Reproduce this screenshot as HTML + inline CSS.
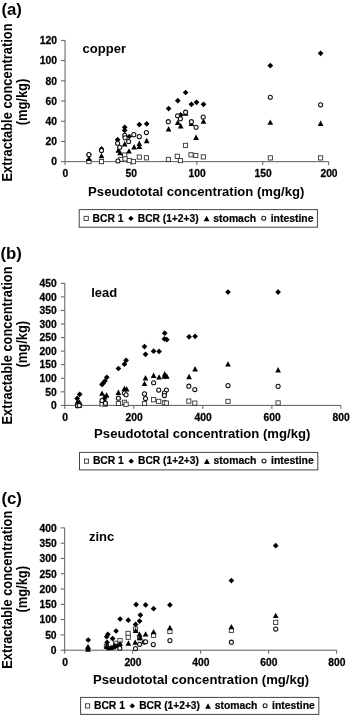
<!DOCTYPE html>
<html><head><meta charset="utf-8"><title>Figure</title>
<style>html,body{margin:0;padding:0;background:#fff}svg{display:block}text{font-family:"Liberation Sans", Arial, Helvetica, sans-serif;fill:#000}</style>
</head><body>
<svg width="350" height="715" viewBox="0 0 350 715">
<rect width="350" height="715" fill="#fff"/>
<text x="21.9" y="14.6" font-size="16.8" font-weight="bold" text-anchor="end">(a)</text>
<path d="M65.05 40.4V161.65H328.7" fill="none" stroke="#5c5c5c" stroke-width="1"/>
<path d="M61.05 161.65H65.05" stroke="#5c5c5c" stroke-width="1"/>
<text transform="translate(56.95 165.40) scale(1.02 1)" font-size="10.1" font-weight="bold" text-anchor="end" stroke="#000" stroke-width="0.25">0</text>
<path d="M61.05 141.44H65.05" stroke="#5c5c5c" stroke-width="1"/>
<text transform="translate(56.95 145.19) scale(1.02 1)" font-size="10.1" font-weight="bold" text-anchor="end" stroke="#000" stroke-width="0.25">20</text>
<path d="M61.05 121.23H65.05" stroke="#5c5c5c" stroke-width="1"/>
<text transform="translate(56.95 124.98) scale(1.02 1)" font-size="10.1" font-weight="bold" text-anchor="end" stroke="#000" stroke-width="0.25">40</text>
<path d="M61.05 101.03H65.05" stroke="#5c5c5c" stroke-width="1"/>
<text transform="translate(56.95 104.78) scale(1.02 1)" font-size="10.1" font-weight="bold" text-anchor="end" stroke="#000" stroke-width="0.25">60</text>
<path d="M61.05 80.82H65.05" stroke="#5c5c5c" stroke-width="1"/>
<text transform="translate(56.95 84.57) scale(1.02 1)" font-size="10.1" font-weight="bold" text-anchor="end" stroke="#000" stroke-width="0.25">80</text>
<path d="M61.05 60.61H65.05" stroke="#5c5c5c" stroke-width="1"/>
<text transform="translate(56.95 64.36) scale(1.02 1)" font-size="10.1" font-weight="bold" text-anchor="end" stroke="#000" stroke-width="0.25">100</text>
<path d="M61.05 40.40H65.05" stroke="#5c5c5c" stroke-width="1"/>
<text transform="translate(56.95 44.15) scale(1.02 1)" font-size="10.1" font-weight="bold" text-anchor="end" stroke="#000" stroke-width="0.25">120</text>
<path d="M65.05 161.65V165.15" stroke="#5c5c5c" stroke-width="1"/>
<text transform="translate(65.35 177.25) scale(1.02 1)" font-size="10.1" font-weight="bold" text-anchor="middle" stroke="#000" stroke-width="0.25">0</text>
<path d="M130.96 161.65V165.15" stroke="#5c5c5c" stroke-width="1"/>
<text transform="translate(131.26 177.25) scale(1.02 1)" font-size="10.1" font-weight="bold" text-anchor="middle" stroke="#000" stroke-width="0.25">50</text>
<path d="M196.88 161.65V165.15" stroke="#5c5c5c" stroke-width="1"/>
<text transform="translate(197.18 177.25) scale(1.02 1)" font-size="10.1" font-weight="bold" text-anchor="middle" stroke="#000" stroke-width="0.25">100</text>
<path d="M262.79 161.65V165.15" stroke="#5c5c5c" stroke-width="1"/>
<text transform="translate(263.09 177.25) scale(1.02 1)" font-size="10.1" font-weight="bold" text-anchor="middle" stroke="#000" stroke-width="0.25">150</text>
<path d="M328.70 161.65V165.15" stroke="#5c5c5c" stroke-width="1"/>
<text transform="translate(329.00 177.25) scale(1.02 1)" font-size="10.1" font-weight="bold" text-anchor="middle" stroke="#000" stroke-width="0.25">200</text>
<text x="82.6" y="53.1" font-size="13" font-weight="bold">copper</text>
<text transform="translate(88.1 195.5) scale(0.978 1)" font-size="13.4" font-weight="bold">Pseudototal concentration (mg/kg)</text>
<text transform="translate(12.2 102.5) rotate(-90) scale(0.921 1)" font-size="14" font-weight="bold" text-anchor="middle">Extractable concentration</text>
<text transform="translate(26.5 102.0) rotate(-90) scale(0.921 1)" font-size="14" font-weight="bold" text-anchor="middle">(mg/kg)</text>
<rect x="79.2" y="209.6" width="238.2" height="17.6" fill="#fff" stroke="#444" stroke-width="1"/>
<rect x="84.10" y="216.30" width="4.20" height="4.20" fill="#fff" stroke="#2a2a2a" stroke-width="0.85"/>
<text x="92.60000000000001" y="221.5" font-size="10.3" font-weight="bold" stroke="#000" stroke-width="0.2">BCR 1</text>
<path d="M130.90 215.70L133.60 218.40L130.90 221.10L128.20 218.40Z" fill="#000"/>
<text x="137.8" y="221.5" font-size="10.22" font-weight="bold" stroke="#000" stroke-width="0.2">BCR (1+2+3)</text>
<path d="M206.60 215.65L209.50 221.16L203.70 221.16Z" fill="#000"/>
<text x="213.3" y="221.5" font-size="10.4" font-weight="bold" stroke="#000" stroke-width="0.2">stomach</text>
<circle cx="263.70" cy="218.25" r="2.00" fill="#fff" stroke="#111" stroke-width="1.05"/>
<text x="270.7" y="221.5" font-size="10.4" font-weight="bold" stroke="#000" stroke-width="0.2">intestine</text>
<rect x="86.80" y="159.50" width="4.20" height="4.20" fill="#fff" stroke="#2a2a2a" stroke-width="0.85"/>
<rect x="99.40" y="159.50" width="4.20" height="4.20" fill="#fff" stroke="#2a2a2a" stroke-width="0.85"/>
<rect x="118.90" y="157.30" width="4.20" height="4.20" fill="#fff" stroke="#2a2a2a" stroke-width="0.85"/>
<rect x="122.60" y="152.90" width="4.20" height="4.20" fill="#fff" stroke="#2a2a2a" stroke-width="0.85"/>
<rect x="123.00" y="156.80" width="4.20" height="4.20" fill="#fff" stroke="#2a2a2a" stroke-width="0.85"/>
<rect x="127.20" y="158.40" width="4.20" height="4.20" fill="#fff" stroke="#2a2a2a" stroke-width="0.85"/>
<rect x="131.30" y="159.50" width="4.20" height="4.20" fill="#fff" stroke="#2a2a2a" stroke-width="0.85"/>
<rect x="137.20" y="155.00" width="4.20" height="4.20" fill="#fff" stroke="#2a2a2a" stroke-width="0.85"/>
<rect x="144.30" y="155.70" width="4.20" height="4.20" fill="#fff" stroke="#2a2a2a" stroke-width="0.85"/>
<rect x="166.30" y="157.30" width="4.20" height="4.20" fill="#fff" stroke="#2a2a2a" stroke-width="0.85"/>
<rect x="175.20" y="154.20" width="4.20" height="4.20" fill="#fff" stroke="#2a2a2a" stroke-width="0.85"/>
<rect x="178.30" y="158.50" width="4.20" height="4.20" fill="#fff" stroke="#2a2a2a" stroke-width="0.85"/>
<rect x="183.40" y="143.30" width="4.20" height="4.20" fill="#fff" stroke="#2a2a2a" stroke-width="0.85"/>
<rect x="188.90" y="152.70" width="4.20" height="4.20" fill="#fff" stroke="#2a2a2a" stroke-width="0.85"/>
<rect x="193.70" y="153.40" width="4.20" height="4.20" fill="#fff" stroke="#2a2a2a" stroke-width="0.85"/>
<rect x="201.20" y="154.80" width="4.20" height="4.20" fill="#fff" stroke="#2a2a2a" stroke-width="0.85"/>
<rect x="268.20" y="155.80" width="4.20" height="4.20" fill="#fff" stroke="#2a2a2a" stroke-width="0.85"/>
<rect x="318.50" y="155.80" width="4.20" height="4.20" fill="#fff" stroke="#2a2a2a" stroke-width="0.85"/>
<path d="M88.90 151.75L91.75 154.60L88.90 157.45L86.05 154.60Z" fill="#000"/>
<path d="M101.50 146.05L104.35 148.90L101.50 151.75L98.65 148.90Z" fill="#000"/>
<path d="M117.60 136.85L120.45 139.70L117.60 142.55L114.75 139.70Z" fill="#000"/>
<path d="M124.70 124.45L127.55 127.30L124.70 130.15L121.85 127.30Z" fill="#000"/>
<path d="M124.70 127.45L127.55 130.30L124.70 133.15L121.85 130.30Z" fill="#000"/>
<path d="M129.30 133.65L132.15 136.50L129.30 139.35L126.45 136.50Z" fill="#000"/>
<path d="M139.30 121.75L142.15 124.60L139.30 127.45L136.45 124.60Z" fill="#000"/>
<path d="M146.70 120.95L149.55 123.80L146.70 126.65L143.85 123.80Z" fill="#000"/>
<path d="M168.60 105.75L171.45 108.60L168.60 111.45L165.75 108.60Z" fill="#000"/>
<path d="M177.80 97.85L180.65 100.70L177.80 103.55L174.95 100.70Z" fill="#000"/>
<path d="M185.60 89.65L188.45 92.50L185.60 95.35L182.75 92.50Z" fill="#000"/>
<path d="M180.70 112.05L183.55 114.90L180.70 117.75L177.85 114.90Z" fill="#000"/>
<path d="M191.40 101.45L194.25 104.30L191.40 107.15L188.55 104.30Z" fill="#000"/>
<path d="M196.50 99.45L199.35 102.30L196.50 105.15L193.65 102.30Z" fill="#000"/>
<path d="M203.50 101.45L206.35 104.30L203.50 107.15L200.65 104.30Z" fill="#000"/>
<path d="M270.30 62.75L273.15 65.60L270.30 68.45L267.45 65.60Z" fill="#000"/>
<path d="M320.60 50.45L323.45 53.30L320.60 56.15L317.75 53.30Z" fill="#000"/>
<path d="M88.90 155.69L91.75 161.11L86.05 161.11Z" fill="#000"/>
<path d="M101.50 152.89L104.35 158.31L98.65 158.31Z" fill="#000"/>
<path d="M118.30 147.39L121.15 152.81L115.45 152.81Z" fill="#000"/>
<path d="M120.10 149.89L122.95 155.31L117.25 155.31Z" fill="#000"/>
<path d="M124.70 140.99L127.55 146.41L121.85 146.41Z" fill="#000"/>
<path d="M129.00 148.19L131.85 153.61L126.15 153.61Z" fill="#000"/>
<path d="M134.10 144.09L136.95 149.51L131.25 149.51Z" fill="#000"/>
<path d="M139.30 140.59L142.15 146.01L136.45 146.01Z" fill="#000"/>
<path d="M139.30 143.69L142.15 149.11L136.45 149.11Z" fill="#000"/>
<path d="M146.70 137.79L149.55 143.21L143.85 143.21Z" fill="#000"/>
<path d="M168.60 126.09L171.45 131.51L165.75 131.51Z" fill="#000"/>
<path d="M177.80 119.49L180.65 124.91L174.95 124.91Z" fill="#000"/>
<path d="M180.70 123.09L183.55 128.51L177.85 128.51Z" fill="#000"/>
<path d="M185.60 110.39L188.45 115.81L182.75 115.81Z" fill="#000"/>
<path d="M191.40 120.59L194.25 126.01L188.55 126.01Z" fill="#000"/>
<path d="M196.10 134.49L198.95 139.91L193.25 139.91Z" fill="#000"/>
<path d="M203.50 118.39L206.35 123.81L200.65 123.81Z" fill="#000"/>
<path d="M270.30 119.39L273.15 124.81L267.45 124.81Z" fill="#000"/>
<path d="M320.60 120.59L323.45 126.01L317.75 126.01Z" fill="#000"/>
<circle cx="88.90" cy="154.65" r="2.05" fill="#fff" stroke="#111" stroke-width="1.05"/>
<circle cx="101.50" cy="150.55" r="2.05" fill="#fff" stroke="#111" stroke-width="1.05"/>
<circle cx="117.60" cy="143.25" r="2.05" fill="#fff" stroke="#111" stroke-width="1.05"/>
<circle cx="119.70" cy="147.35" r="2.05" fill="#fff" stroke="#111" stroke-width="1.05"/>
<circle cx="124.70" cy="135.25" r="2.05" fill="#fff" stroke="#111" stroke-width="1.05"/>
<circle cx="125.10" cy="137.75" r="2.05" fill="#fff" stroke="#111" stroke-width="1.05"/>
<circle cx="128.60" cy="141.45" r="2.05" fill="#fff" stroke="#111" stroke-width="1.05"/>
<circle cx="133.80" cy="134.65" r="2.05" fill="#fff" stroke="#111" stroke-width="1.05"/>
<circle cx="139.30" cy="136.65" r="2.05" fill="#fff" stroke="#111" stroke-width="1.05"/>
<circle cx="146.40" cy="132.55" r="2.05" fill="#fff" stroke="#111" stroke-width="1.05"/>
<circle cx="117.90" cy="160.95" r="2.05" fill="#fff" stroke="#111" stroke-width="1.05"/>
<circle cx="168.30" cy="121.65" r="2.05" fill="#fff" stroke="#111" stroke-width="1.05"/>
<circle cx="177.60" cy="115.75" r="2.05" fill="#fff" stroke="#111" stroke-width="1.05"/>
<circle cx="180.40" cy="118.65" r="2.05" fill="#fff" stroke="#111" stroke-width="1.05"/>
<circle cx="185.60" cy="112.15" r="2.05" fill="#fff" stroke="#111" stroke-width="1.05"/>
<circle cx="191.40" cy="121.65" r="2.05" fill="#fff" stroke="#111" stroke-width="1.05"/>
<circle cx="196.10" cy="127.25" r="2.05" fill="#fff" stroke="#111" stroke-width="1.05"/>
<circle cx="203.20" cy="117.05" r="2.05" fill="#fff" stroke="#111" stroke-width="1.05"/>
<circle cx="270.30" cy="97.25" r="2.05" fill="#fff" stroke="#111" stroke-width="1.05"/>
<circle cx="320.60" cy="104.85" r="2.05" fill="#fff" stroke="#111" stroke-width="1.05"/>
<text x="21.9" y="259.4" font-size="16.8" font-weight="bold" text-anchor="end">(b)</text>
<path d="M64.8 283.3V405.4H340.9" fill="none" stroke="#5c5c5c" stroke-width="1"/>
<path d="M60.8 405.40H64.8" stroke="#5c5c5c" stroke-width="1"/>
<text transform="translate(56.70 409.15) scale(1.02 1)" font-size="10.1" font-weight="bold" text-anchor="end" stroke="#000" stroke-width="0.25">0</text>
<path d="M60.8 391.83H64.8" stroke="#5c5c5c" stroke-width="1"/>
<text transform="translate(56.70 395.58) scale(1.02 1)" font-size="10.1" font-weight="bold" text-anchor="end" stroke="#000" stroke-width="0.25">50</text>
<path d="M60.8 378.27H64.8" stroke="#5c5c5c" stroke-width="1"/>
<text transform="translate(56.70 382.02) scale(1.02 1)" font-size="10.1" font-weight="bold" text-anchor="end" stroke="#000" stroke-width="0.25">100</text>
<path d="M60.8 364.70H64.8" stroke="#5c5c5c" stroke-width="1"/>
<text transform="translate(56.70 368.45) scale(1.02 1)" font-size="10.1" font-weight="bold" text-anchor="end" stroke="#000" stroke-width="0.25">150</text>
<path d="M60.8 351.13H64.8" stroke="#5c5c5c" stroke-width="1"/>
<text transform="translate(56.70 354.88) scale(1.02 1)" font-size="10.1" font-weight="bold" text-anchor="end" stroke="#000" stroke-width="0.25">200</text>
<path d="M60.8 337.57H64.8" stroke="#5c5c5c" stroke-width="1"/>
<text transform="translate(56.70 341.32) scale(1.02 1)" font-size="10.1" font-weight="bold" text-anchor="end" stroke="#000" stroke-width="0.25">250</text>
<path d="M60.8 324.00H64.8" stroke="#5c5c5c" stroke-width="1"/>
<text transform="translate(56.70 327.75) scale(1.02 1)" font-size="10.1" font-weight="bold" text-anchor="end" stroke="#000" stroke-width="0.25">300</text>
<path d="M60.8 310.43H64.8" stroke="#5c5c5c" stroke-width="1"/>
<text transform="translate(56.70 314.18) scale(1.02 1)" font-size="10.1" font-weight="bold" text-anchor="end" stroke="#000" stroke-width="0.25">350</text>
<path d="M60.8 296.87H64.8" stroke="#5c5c5c" stroke-width="1"/>
<text transform="translate(56.70 300.62) scale(1.02 1)" font-size="10.1" font-weight="bold" text-anchor="end" stroke="#000" stroke-width="0.25">400</text>
<path d="M60.8 283.30H64.8" stroke="#5c5c5c" stroke-width="1"/>
<text transform="translate(56.70 287.05) scale(1.02 1)" font-size="10.1" font-weight="bold" text-anchor="end" stroke="#000" stroke-width="0.25">450</text>
<path d="M64.80 405.4V408.9" stroke="#5c5c5c" stroke-width="1"/>
<text transform="translate(65.10 421.00) scale(1.02 1)" font-size="10.1" font-weight="bold" text-anchor="middle" stroke="#000" stroke-width="0.25">0</text>
<path d="M133.82 405.4V408.9" stroke="#5c5c5c" stroke-width="1"/>
<text transform="translate(134.12 421.00) scale(1.02 1)" font-size="10.1" font-weight="bold" text-anchor="middle" stroke="#000" stroke-width="0.25">200</text>
<path d="M202.85 405.4V408.9" stroke="#5c5c5c" stroke-width="1"/>
<text transform="translate(203.15 421.00) scale(1.02 1)" font-size="10.1" font-weight="bold" text-anchor="middle" stroke="#000" stroke-width="0.25">400</text>
<path d="M271.88 405.4V408.9" stroke="#5c5c5c" stroke-width="1"/>
<text transform="translate(272.18 421.00) scale(1.02 1)" font-size="10.1" font-weight="bold" text-anchor="middle" stroke="#000" stroke-width="0.25">600</text>
<path d="M340.90 405.4V408.9" stroke="#5c5c5c" stroke-width="1"/>
<text transform="translate(341.20 421.00) scale(1.02 1)" font-size="10.1" font-weight="bold" text-anchor="middle" stroke="#000" stroke-width="0.25">800</text>
<text x="91.2" y="297" font-size="13" font-weight="bold">lead</text>
<text transform="translate(94.1 438.4) scale(0.978 1)" font-size="13.4" font-weight="bold">Pseudototal concentration (mg/kg)</text>
<text transform="translate(12.2 345.5) rotate(-90) scale(0.921 1)" font-size="14" font-weight="bold" text-anchor="middle">Extractable concentration</text>
<text transform="translate(26.5 344.2) rotate(-90) scale(0.921 1)" font-size="14" font-weight="bold" text-anchor="middle">(mg/kg)</text>
<rect x="79.5" y="452.4" width="238.3" height="17.5" fill="#fff" stroke="#444" stroke-width="1"/>
<rect x="84.40" y="459.05" width="4.20" height="4.20" fill="#fff" stroke="#2a2a2a" stroke-width="0.85"/>
<text x="92.9" y="464.29999999999995" font-size="10.3" font-weight="bold" stroke="#000" stroke-width="0.2">BCR 1</text>
<path d="M131.20 458.45L133.90 461.15L131.20 463.85L128.50 461.15Z" fill="#000"/>
<text x="138.1" y="464.29999999999995" font-size="10.22" font-weight="bold" stroke="#000" stroke-width="0.2">BCR (1+2+3)</text>
<path d="M206.90 458.39L209.80 463.90L204.00 463.90Z" fill="#000"/>
<text x="213.6" y="464.29999999999995" font-size="10.4" font-weight="bold" stroke="#000" stroke-width="0.2">stomach</text>
<circle cx="264.00" cy="461.00" r="2.00" fill="#fff" stroke="#111" stroke-width="1.05"/>
<text x="271.0" y="464.29999999999995" font-size="10.4" font-weight="bold" stroke="#000" stroke-width="0.2">intestine</text>
<rect x="75.90" y="403.50" width="4.20" height="4.20" fill="#fff" stroke="#2a2a2a" stroke-width="0.85"/>
<rect x="77.40" y="403.30" width="4.20" height="4.20" fill="#fff" stroke="#2a2a2a" stroke-width="0.85"/>
<rect x="99.90" y="401.80" width="4.20" height="4.20" fill="#fff" stroke="#2a2a2a" stroke-width="0.85"/>
<rect x="103.30" y="402.00" width="4.20" height="4.20" fill="#fff" stroke="#2a2a2a" stroke-width="0.85"/>
<rect x="116.30" y="401.40" width="4.20" height="4.20" fill="#fff" stroke="#2a2a2a" stroke-width="0.85"/>
<rect x="122.30" y="400.20" width="4.20" height="4.20" fill="#fff" stroke="#2a2a2a" stroke-width="0.85"/>
<rect x="124.00" y="402.20" width="4.20" height="4.20" fill="#fff" stroke="#2a2a2a" stroke-width="0.85"/>
<rect x="142.40" y="401.40" width="4.20" height="4.20" fill="#fff" stroke="#2a2a2a" stroke-width="0.85"/>
<rect x="151.50" y="397.60" width="4.20" height="4.20" fill="#fff" stroke="#2a2a2a" stroke-width="0.85"/>
<rect x="156.60" y="399.30" width="4.20" height="4.20" fill="#fff" stroke="#2a2a2a" stroke-width="0.85"/>
<rect x="162.30" y="400.70" width="4.20" height="4.20" fill="#fff" stroke="#2a2a2a" stroke-width="0.85"/>
<rect x="164.30" y="401.00" width="4.20" height="4.20" fill="#fff" stroke="#2a2a2a" stroke-width="0.85"/>
<rect x="186.70" y="399.00" width="4.20" height="4.20" fill="#fff" stroke="#2a2a2a" stroke-width="0.85"/>
<rect x="192.70" y="401.00" width="4.20" height="4.20" fill="#fff" stroke="#2a2a2a" stroke-width="0.85"/>
<rect x="225.90" y="399.30" width="4.20" height="4.20" fill="#fff" stroke="#2a2a2a" stroke-width="0.85"/>
<rect x="276.00" y="400.80" width="4.20" height="4.20" fill="#fff" stroke="#2a2a2a" stroke-width="0.85"/>
<path d="M79.70 391.45L82.55 394.30L79.70 397.15L76.85 394.30Z" fill="#000"/>
<path d="M77.20 395.55L80.05 398.40L77.20 401.25L74.35 398.40Z" fill="#000"/>
<path d="M106.80 374.45L109.65 377.30L106.80 380.15L103.95 377.30Z" fill="#000"/>
<path d="M104.90 378.15L107.75 381.00L104.90 383.85L102.05 381.00Z" fill="#000"/>
<path d="M103.10 380.45L105.95 383.30L103.10 386.15L100.25 383.30Z" fill="#000"/>
<path d="M102.00 381.55L104.85 384.40L102.00 387.25L99.15 384.40Z" fill="#000"/>
<path d="M118.40 365.65L121.25 368.50L118.40 371.35L115.55 368.50Z" fill="#000"/>
<path d="M124.40 361.35L127.25 364.20L124.40 367.05L121.55 364.20Z" fill="#000"/>
<path d="M126.10 357.45L128.95 360.30L126.10 363.15L123.25 360.30Z" fill="#000"/>
<path d="M144.50 343.75L147.35 346.60L144.50 349.45L141.65 346.60Z" fill="#000"/>
<path d="M145.50 351.45L148.35 354.30L145.50 357.15L142.65 354.30Z" fill="#000"/>
<path d="M153.60 348.35L156.45 351.20L153.60 354.05L150.75 351.20Z" fill="#000"/>
<path d="M159.10 348.55L161.95 351.40L159.10 354.25L156.25 351.40Z" fill="#000"/>
<path d="M164.70 330.35L167.55 333.20L164.70 336.05L161.85 333.20Z" fill="#000"/>
<path d="M164.40 336.05L167.25 338.90L164.40 341.75L161.55 338.90Z" fill="#000"/>
<path d="M166.80 336.85L169.65 339.70L166.80 342.55L163.95 339.70Z" fill="#000"/>
<path d="M189.10 333.95L191.95 336.80L189.10 339.65L186.25 336.80Z" fill="#000"/>
<path d="M195.10 333.45L197.95 336.30L195.10 339.15L192.25 336.30Z" fill="#000"/>
<path d="M228.00 289.25L230.85 292.10L228.00 294.95L225.15 292.10Z" fill="#000"/>
<path d="M278.10 289.25L280.95 292.10L278.10 294.95L275.25 292.10Z" fill="#000"/>
<path d="M77.60 398.39L80.45 403.81L74.75 403.81Z" fill="#000"/>
<path d="M79.60 399.59L82.45 405.01L76.75 405.01Z" fill="#000"/>
<path d="M102.00 390.39L104.85 395.81L99.15 395.81Z" fill="#000"/>
<path d="M106.60 392.29L109.45 397.71L103.75 397.71Z" fill="#000"/>
<path d="M104.60 393.99L107.45 399.41L101.75 399.41Z" fill="#000"/>
<path d="M103.70 395.69L106.55 401.11L100.85 401.11Z" fill="#000"/>
<path d="M118.40 389.59L121.25 395.01L115.55 395.01Z" fill="#000"/>
<path d="M124.40 385.69L127.25 391.11L121.55 391.11Z" fill="#000"/>
<path d="M126.70 386.19L129.55 391.61L123.85 391.61Z" fill="#000"/>
<path d="M144.50 380.69L147.35 386.11L141.65 386.11Z" fill="#000"/>
<path d="M145.50 374.99L148.35 380.41L142.65 380.41Z" fill="#000"/>
<path d="M153.60 372.49L156.45 377.91L150.75 377.91Z" fill="#000"/>
<path d="M159.10 374.19L161.95 379.61L156.25 379.61Z" fill="#000"/>
<path d="M164.70 371.09L167.55 376.51L161.85 376.51Z" fill="#000"/>
<path d="M164.40 373.29L167.25 378.71L161.55 378.71Z" fill="#000"/>
<path d="M166.80 373.29L169.65 378.71L163.95 378.71Z" fill="#000"/>
<path d="M189.10 373.79L191.95 379.21L186.25 379.21Z" fill="#000"/>
<path d="M195.10 366.09L197.95 371.51L192.25 371.51Z" fill="#000"/>
<path d="M228.00 361.19L230.85 366.61L225.15 366.61Z" fill="#000"/>
<path d="M278.10 367.09L280.95 372.51L275.25 372.51Z" fill="#000"/>
<circle cx="77.50" cy="405.65" r="2.05" fill="#fff" stroke="#111" stroke-width="1.05"/>
<circle cx="79.30" cy="405.45" r="2.05" fill="#fff" stroke="#111" stroke-width="1.05"/>
<circle cx="102.00" cy="400.45" r="2.05" fill="#fff" stroke="#111" stroke-width="1.05"/>
<circle cx="105.40" cy="403.35" r="2.05" fill="#fff" stroke="#111" stroke-width="1.05"/>
<circle cx="118.40" cy="398.15" r="2.05" fill="#fff" stroke="#111" stroke-width="1.05"/>
<circle cx="124.40" cy="393.05" r="2.05" fill="#fff" stroke="#111" stroke-width="1.05"/>
<circle cx="126.10" cy="394.75" r="2.05" fill="#fff" stroke="#111" stroke-width="1.05"/>
<circle cx="144.50" cy="393.85" r="2.05" fill="#fff" stroke="#111" stroke-width="1.05"/>
<circle cx="145.50" cy="398.45" r="2.05" fill="#fff" stroke="#111" stroke-width="1.05"/>
<circle cx="153.60" cy="382.75" r="2.05" fill="#fff" stroke="#111" stroke-width="1.05"/>
<circle cx="158.70" cy="390.05" r="2.05" fill="#fff" stroke="#111" stroke-width="1.05"/>
<circle cx="166.40" cy="390.05" r="2.05" fill="#fff" stroke="#111" stroke-width="1.05"/>
<circle cx="164.40" cy="393.05" r="2.05" fill="#fff" stroke="#111" stroke-width="1.05"/>
<circle cx="164.40" cy="395.55" r="2.05" fill="#fff" stroke="#111" stroke-width="1.05"/>
<circle cx="188.80" cy="386.15" r="2.05" fill="#fff" stroke="#111" stroke-width="1.05"/>
<circle cx="194.80" cy="389.55" r="2.05" fill="#fff" stroke="#111" stroke-width="1.05"/>
<circle cx="228.00" cy="385.55" r="2.05" fill="#fff" stroke="#111" stroke-width="1.05"/>
<circle cx="278.10" cy="386.35" r="2.05" fill="#fff" stroke="#111" stroke-width="1.05"/>
<text x="21.9" y="503.5" font-size="16.8" font-weight="bold" text-anchor="end">(c)</text>
<path d="M64.7 527.9V650.2H336.6" fill="none" stroke="#5c5c5c" stroke-width="1"/>
<path d="M60.7 650.20H64.7" stroke="#5c5c5c" stroke-width="1"/>
<text transform="translate(56.60 653.95) scale(1.02 1)" font-size="10.1" font-weight="bold" text-anchor="end" stroke="#000" stroke-width="0.25">0</text>
<path d="M60.7 634.91H64.7" stroke="#5c5c5c" stroke-width="1"/>
<text transform="translate(56.60 638.66) scale(1.02 1)" font-size="10.1" font-weight="bold" text-anchor="end" stroke="#000" stroke-width="0.25">50</text>
<path d="M60.7 619.62H64.7" stroke="#5c5c5c" stroke-width="1"/>
<text transform="translate(56.60 623.38) scale(1.02 1)" font-size="10.1" font-weight="bold" text-anchor="end" stroke="#000" stroke-width="0.25">100</text>
<path d="M60.7 604.34H64.7" stroke="#5c5c5c" stroke-width="1"/>
<text transform="translate(56.60 608.09) scale(1.02 1)" font-size="10.1" font-weight="bold" text-anchor="end" stroke="#000" stroke-width="0.25">150</text>
<path d="M60.7 589.05H64.7" stroke="#5c5c5c" stroke-width="1"/>
<text transform="translate(56.60 592.80) scale(1.02 1)" font-size="10.1" font-weight="bold" text-anchor="end" stroke="#000" stroke-width="0.25">200</text>
<path d="M60.7 573.76H64.7" stroke="#5c5c5c" stroke-width="1"/>
<text transform="translate(56.60 577.51) scale(1.02 1)" font-size="10.1" font-weight="bold" text-anchor="end" stroke="#000" stroke-width="0.25">250</text>
<path d="M60.7 558.48H64.7" stroke="#5c5c5c" stroke-width="1"/>
<text transform="translate(56.60 562.23) scale(1.02 1)" font-size="10.1" font-weight="bold" text-anchor="end" stroke="#000" stroke-width="0.25">300</text>
<path d="M60.7 543.19H64.7" stroke="#5c5c5c" stroke-width="1"/>
<text transform="translate(56.60 546.94) scale(1.02 1)" font-size="10.1" font-weight="bold" text-anchor="end" stroke="#000" stroke-width="0.25">350</text>
<path d="M60.7 527.90H64.7" stroke="#5c5c5c" stroke-width="1"/>
<text transform="translate(56.60 531.65) scale(1.02 1)" font-size="10.1" font-weight="bold" text-anchor="end" stroke="#000" stroke-width="0.25">400</text>
<path d="M64.70 650.2V653.7" stroke="#5c5c5c" stroke-width="1"/>
<text transform="translate(65.00 665.80) scale(1.02 1)" font-size="10.1" font-weight="bold" text-anchor="middle" stroke="#000" stroke-width="0.25">0</text>
<path d="M132.68 650.2V653.7" stroke="#5c5c5c" stroke-width="1"/>
<text transform="translate(132.98 665.80) scale(1.02 1)" font-size="10.1" font-weight="bold" text-anchor="middle" stroke="#000" stroke-width="0.25">200</text>
<path d="M200.65 650.2V653.7" stroke="#5c5c5c" stroke-width="1"/>
<text transform="translate(200.95 665.80) scale(1.02 1)" font-size="10.1" font-weight="bold" text-anchor="middle" stroke="#000" stroke-width="0.25">400</text>
<path d="M268.62 650.2V653.7" stroke="#5c5c5c" stroke-width="1"/>
<text transform="translate(268.93 665.80) scale(1.02 1)" font-size="10.1" font-weight="bold" text-anchor="middle" stroke="#000" stroke-width="0.25">600</text>
<path d="M336.60 650.2V653.7" stroke="#5c5c5c" stroke-width="1"/>
<text transform="translate(336.90 665.80) scale(1.02 1)" font-size="10.1" font-weight="bold" text-anchor="middle" stroke="#000" stroke-width="0.25">800</text>
<text x="89.0" y="540.9" font-size="13" font-weight="bold">zinc</text>
<text transform="translate(92.9 683.5) scale(0.978 1)" font-size="13.4" font-weight="bold">Pseudototal concentration (mg/kg)</text>
<text transform="translate(12.2 589.8) rotate(-90) scale(0.921 1)" font-size="14" font-weight="bold" text-anchor="middle">Extractable concentration</text>
<text transform="translate(26.5 589.3) rotate(-90) scale(0.921 1)" font-size="14" font-weight="bold" text-anchor="middle">(mg/kg)</text>
<rect x="80.6" y="697.4" width="238.2" height="17.0" fill="#fff" stroke="#444" stroke-width="1"/>
<rect x="85.50" y="703.80" width="4.20" height="4.20" fill="#fff" stroke="#2a2a2a" stroke-width="0.85"/>
<text x="94.0" y="709.3" font-size="10.3" font-weight="bold" stroke="#000" stroke-width="0.2">BCR 1</text>
<path d="M132.30 703.20L135.00 705.90L132.30 708.60L129.60 705.90Z" fill="#000"/>
<text x="139.2" y="709.3" font-size="10.22" font-weight="bold" stroke="#000" stroke-width="0.2">BCR (1+2+3)</text>
<path d="M208.00 703.14L210.90 708.65L205.10 708.65Z" fill="#000"/>
<text x="214.7" y="709.3" font-size="10.4" font-weight="bold" stroke="#000" stroke-width="0.2">stomach</text>
<circle cx="265.10" cy="705.75" r="2.00" fill="#fff" stroke="#111" stroke-width="1.05"/>
<text x="272.1" y="709.3" font-size="10.4" font-weight="bold" stroke="#000" stroke-width="0.2">intestine</text>
<rect x="104.30" y="644.30" width="4.20" height="4.20" fill="#fff" stroke="#2a2a2a" stroke-width="0.85"/>
<rect x="113.60" y="641.20" width="4.20" height="4.20" fill="#fff" stroke="#2a2a2a" stroke-width="0.85"/>
<rect x="117.90" y="638.60" width="4.20" height="4.20" fill="#fff" stroke="#2a2a2a" stroke-width="0.85"/>
<rect x="126.00" y="631.30" width="4.20" height="4.20" fill="#fff" stroke="#2a2a2a" stroke-width="0.85"/>
<rect x="126.10" y="635.20" width="4.20" height="4.20" fill="#fff" stroke="#2a2a2a" stroke-width="0.85"/>
<rect x="133.40" y="627.00" width="4.20" height="4.20" fill="#fff" stroke="#2a2a2a" stroke-width="0.85"/>
<rect x="137.50" y="635.80" width="4.20" height="4.20" fill="#fff" stroke="#2a2a2a" stroke-width="0.85"/>
<rect x="151.50" y="633.20" width="4.20" height="4.20" fill="#fff" stroke="#2a2a2a" stroke-width="0.85"/>
<rect x="167.80" y="629.40" width="4.20" height="4.20" fill="#fff" stroke="#2a2a2a" stroke-width="0.85"/>
<rect x="229.30" y="628.20" width="4.20" height="4.20" fill="#fff" stroke="#2a2a2a" stroke-width="0.85"/>
<rect x="273.60" y="620.20" width="4.20" height="4.20" fill="#fff" stroke="#2a2a2a" stroke-width="0.85"/>
<path d="M88.20 637.15L91.05 640.00L88.20 642.85L85.35 640.00Z" fill="#000"/>
<path d="M88.00 645.35L90.85 648.20L88.00 651.05L85.15 648.20Z" fill="#000"/>
<path d="M107.90 631.45L110.75 634.30L107.90 637.15L105.05 634.30Z" fill="#000"/>
<path d="M106.70 633.85L109.55 636.70L106.70 639.55L103.85 636.70Z" fill="#000"/>
<path d="M112.60 635.75L115.45 638.60L112.60 641.45L109.75 638.60Z" fill="#000"/>
<path d="M116.10 628.15L118.95 631.00L116.10 633.85L113.25 631.00Z" fill="#000"/>
<path d="M120.10 616.15L122.95 619.00L120.10 621.85L117.25 619.00Z" fill="#000"/>
<path d="M128.30 617.35L131.15 620.20L128.30 623.05L125.45 620.20Z" fill="#000"/>
<path d="M107.10 639.55L109.95 642.40L107.10 645.25L104.25 642.40Z" fill="#000"/>
<path d="M136.10 601.75L138.95 604.60L136.10 607.45L133.25 604.60Z" fill="#000"/>
<path d="M145.60 602.05L148.45 604.90L145.60 607.75L142.75 604.90Z" fill="#000"/>
<path d="M153.60 605.85L156.45 608.70L153.60 611.55L150.75 608.70Z" fill="#000"/>
<path d="M169.90 602.05L172.75 604.90L169.90 607.75L167.05 604.90Z" fill="#000"/>
<path d="M140.40 612.25L143.25 615.10L140.40 617.95L137.55 615.10Z" fill="#000"/>
<path d="M139.60 618.25L142.45 621.10L139.60 623.95L136.75 621.10Z" fill="#000"/>
<path d="M135.60 621.55L138.45 624.40L135.60 627.25L132.75 624.40Z" fill="#000"/>
<path d="M231.40 577.75L234.25 580.60L231.40 583.45L228.55 580.60Z" fill="#000"/>
<path d="M275.70 542.85L278.55 545.70L275.70 548.55L272.85 545.70Z" fill="#000"/>
<path d="M88.00 643.79L90.85 649.21L85.15 649.21Z" fill="#000"/>
<path d="M88.00 646.29L90.85 651.71L85.15 651.71Z" fill="#000"/>
<path d="M106.60 643.29L109.45 648.71L103.75 648.71Z" fill="#000"/>
<path d="M108.80 644.79L111.65 650.21L105.95 650.21Z" fill="#000"/>
<path d="M111.00 644.59L113.85 650.01L108.15 650.01Z" fill="#000"/>
<path d="M113.40 643.79L116.25 649.21L110.55 649.21Z" fill="#000"/>
<path d="M114.60 642.19L117.45 647.61L111.75 647.61Z" fill="#000"/>
<path d="M117.00 642.79L119.85 648.21L114.15 648.21Z" fill="#000"/>
<path d="M120.00 640.49L122.85 645.91L117.15 645.91Z" fill="#000"/>
<path d="M128.40 640.29L131.25 645.71L125.55 645.71Z" fill="#000"/>
<path d="M135.20 639.39L138.05 644.81L132.35 644.81Z" fill="#000"/>
<path d="M135.60 627.69L138.45 633.11L132.75 633.11Z" fill="#000"/>
<path d="M139.40 631.19L142.25 636.61L136.55 636.61Z" fill="#000"/>
<path d="M140.00 634.59L142.85 640.01L137.15 640.01Z" fill="#000"/>
<path d="M145.60 631.19L148.45 636.61L142.75 636.61Z" fill="#000"/>
<path d="M153.60 628.89L156.45 634.31L150.75 634.31Z" fill="#000"/>
<path d="M169.90 624.79L172.75 630.21L167.05 630.21Z" fill="#000"/>
<path d="M231.40 623.89L234.25 629.31L228.55 629.31Z" fill="#000"/>
<path d="M275.70 612.69L278.55 618.11L272.85 618.11Z" fill="#000"/>
<circle cx="119.80" cy="648.15" r="2.05" fill="#fff" stroke="#111" stroke-width="1.05"/>
<circle cx="135.50" cy="648.55" r="2.05" fill="#fff" stroke="#111" stroke-width="1.05"/>
<circle cx="139.60" cy="644.35" r="2.05" fill="#fff" stroke="#111" stroke-width="1.05"/>
<circle cx="144.30" cy="642.05" r="2.05" fill="#fff" stroke="#111" stroke-width="1.05"/>
<circle cx="145.60" cy="641.75" r="2.05" fill="#fff" stroke="#111" stroke-width="1.05"/>
<circle cx="153.30" cy="644.55" r="2.05" fill="#fff" stroke="#111" stroke-width="1.05"/>
<circle cx="169.90" cy="640.55" r="2.05" fill="#fff" stroke="#111" stroke-width="1.05"/>
<circle cx="231.40" cy="642.15" r="2.05" fill="#fff" stroke="#111" stroke-width="1.05"/>
<circle cx="275.70" cy="629.05" r="2.05" fill="#fff" stroke="#111" stroke-width="1.05"/>
</svg>
</body></html>
